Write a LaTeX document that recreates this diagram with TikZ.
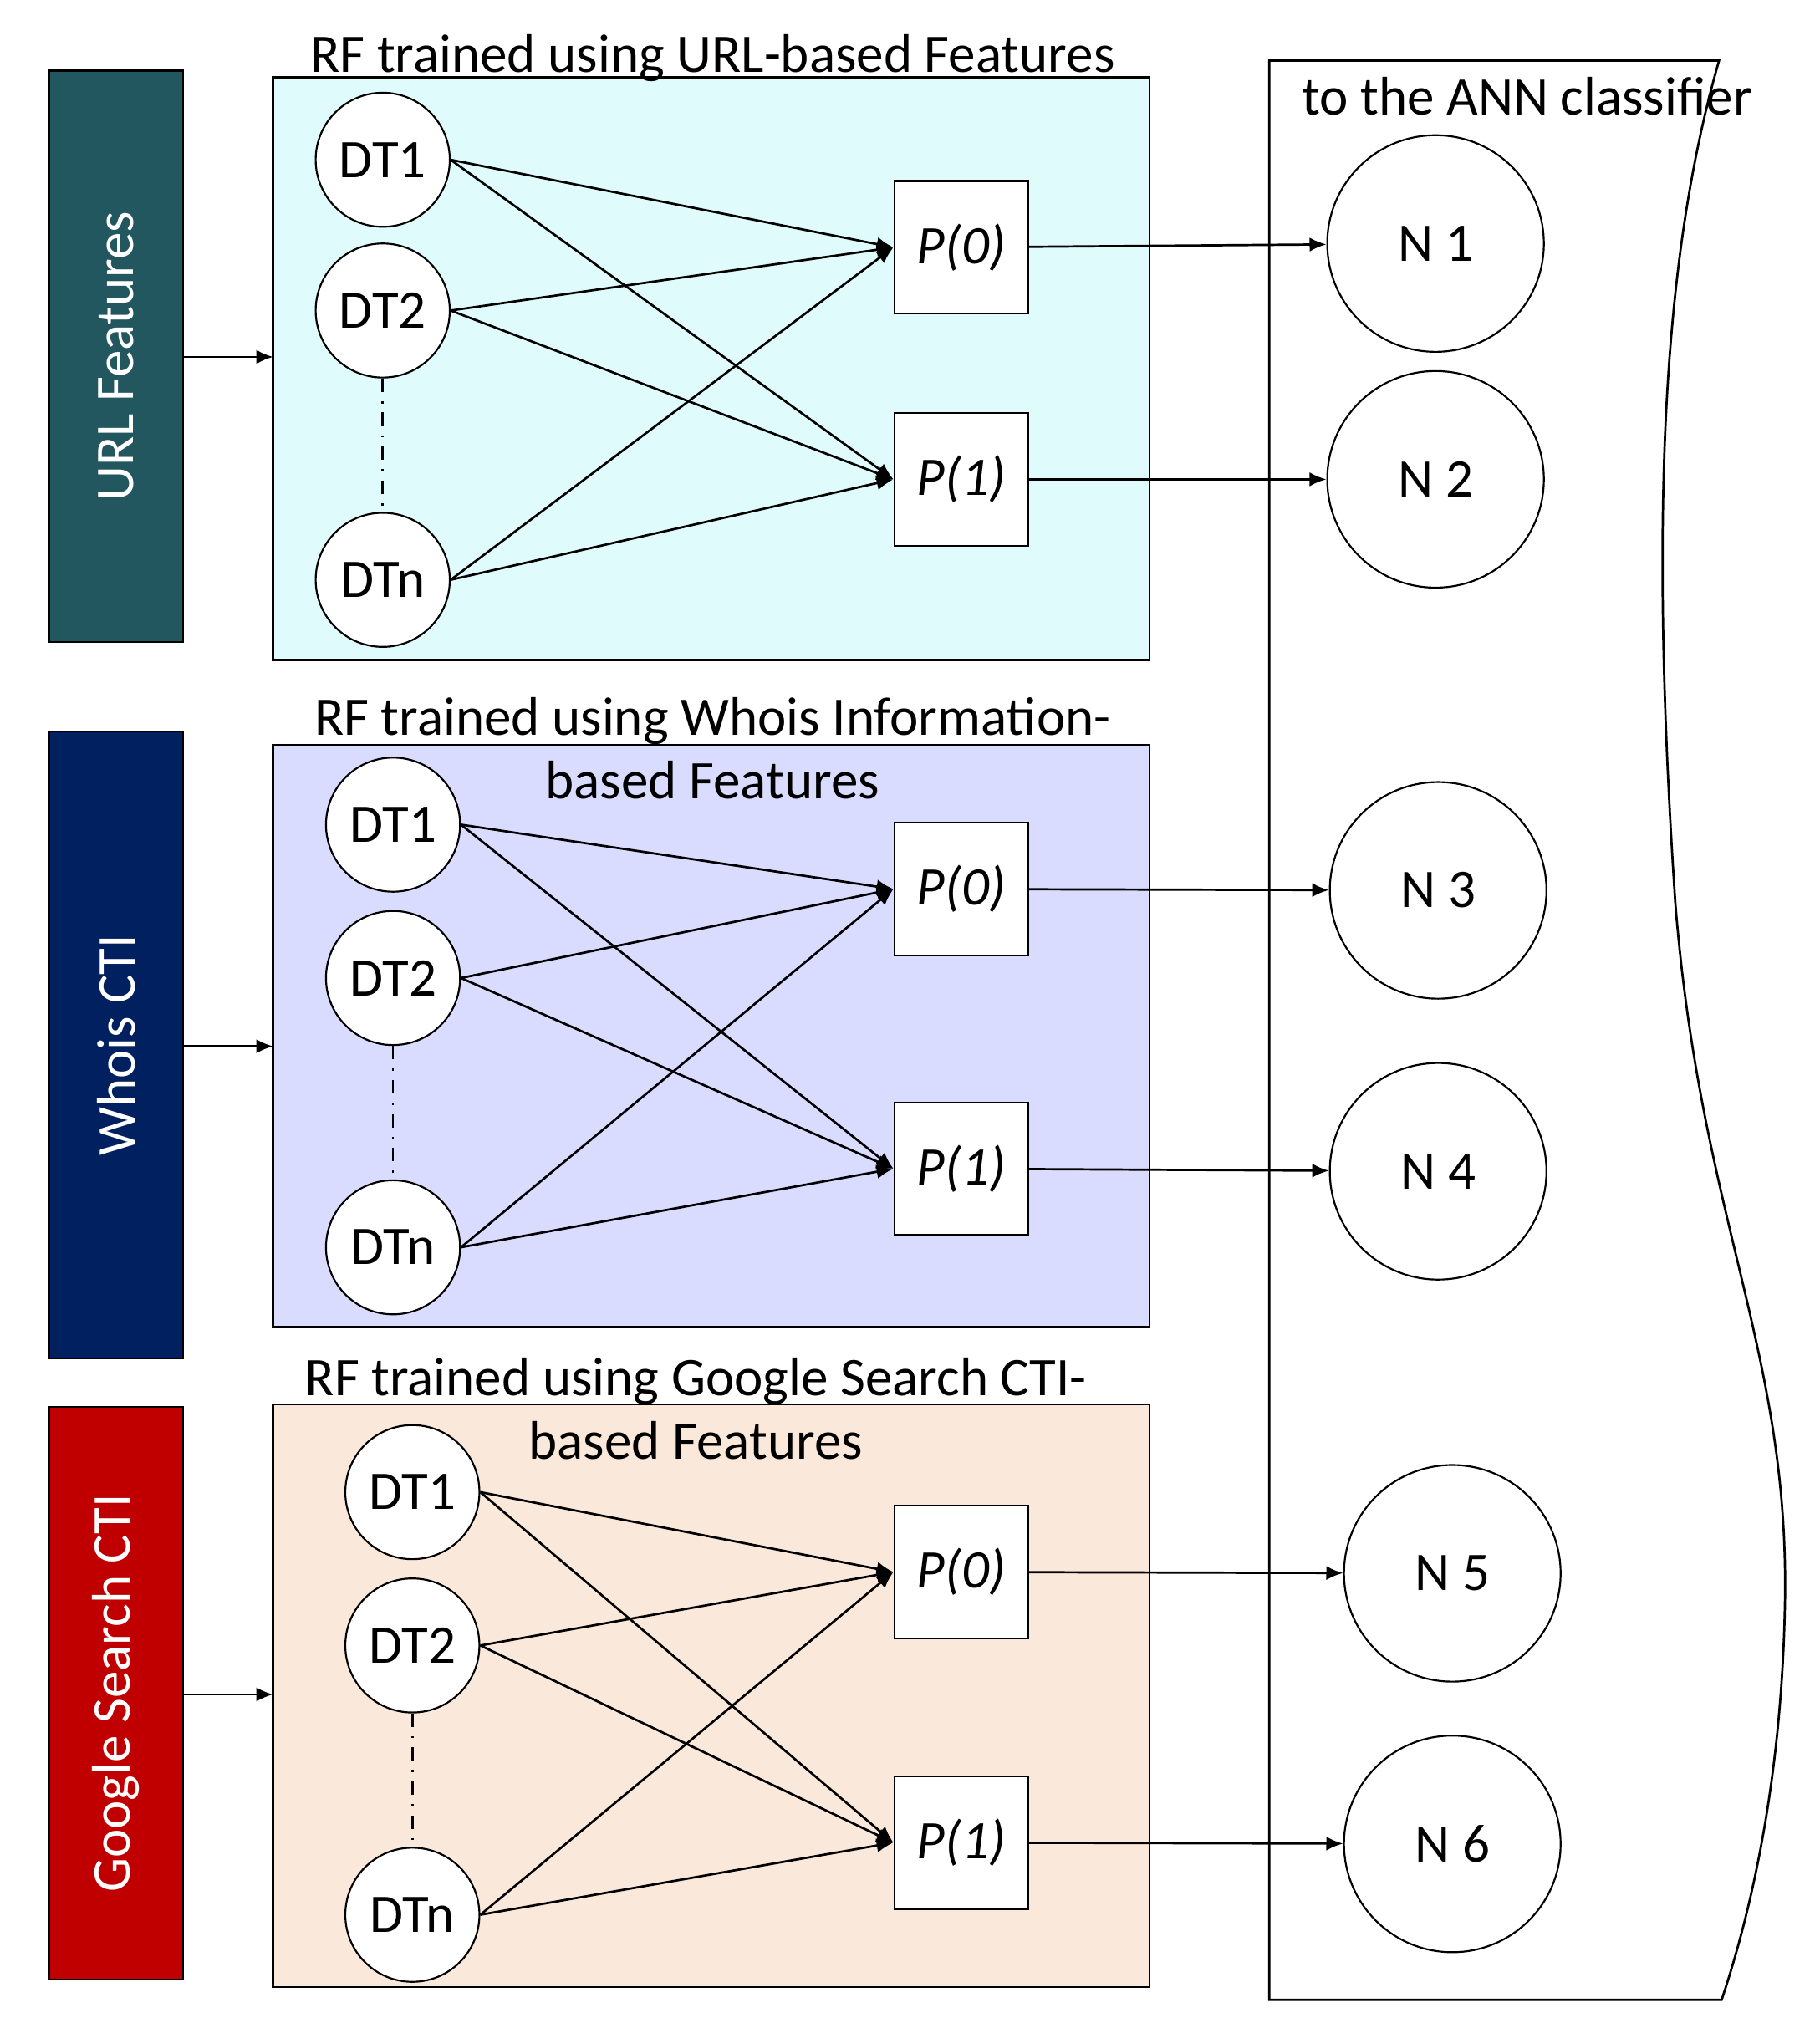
\documentclass[tikz,border=0pt]{standalone}
\usepackage{fontspec}
\setmainfont{Carlito}
\usetikzlibrary{arrows.meta}
\begin{document}
\begin{tikzpicture}[x=0.01cm,y=-0.01cm,
  every node/.style={font=\fontsize{12}{14}\selectfont},
  bar/.style={draw=black,minimum width=1.04cm,minimum height=#1,inner sep=0},
  rf/.style={draw=black,line width=0.5pt},
  dt/.style={circle,draw,fill=white,minimum size=1.04cm,inner sep=0},
  pb/.style={draw,fill=white,minimum width=1.04cm,minimum height=1.03cm,inner sep=0,font=\fontsize{12}{14}\selectfont\itshape},
  nn/.style={circle,draw,fill=white,minimum size=1.68cm,inner sep=0},
  arr/.style={-{Latex[length=1.3mm,width=1.1mm]},line width=0.5pt},
  ln/.style={line width=0.5pt}]
\useasboundingbox (0,0) rectangle (1412,1570);
\definecolor{cteal}{HTML}{22575F}
\definecolor{cnavy}{HTML}{002060}
\definecolor{cred}{HTML}{C00000}
% right panel
\draw[ln] (985,47) -- (1334,47) .. controls (1290,200) and (1280,400) .. (1300,700) .. controls (1320,950) and (1390,1050) .. (1385,1250) .. controls (1382,1380) and (1360,1480) .. (1336,1552) -- (985,1552) -- cycle;
\node at (1185,75) {to the ANN classifier};
% bars
\node[bar=4.43cm,fill=cteal] (b1) at (90,276.5) {};
\node[rotate=90,text=white] at (b1) {URL Features};
\node[bar=4.86cm,fill=cnavy] (b2) at (90,811) {};
\node[rotate=90,text=white] at (b2) {Whois CTI};
\node[bar=4.44cm,fill=cred] (b3) at (90,1314) {};
\node[rotate=90,text=white] at (b3) {Google Search CTI};
% boxes
\draw[rf,fill={rgb,255:red,224;green,251;blue,252}] (212,60) rectangle (892,512);
\draw[rf,fill={rgb,255:red,217;green,220;blue,255}] (212,578) rectangle (892,1030);
\draw[rf,fill={rgb,255:red,250;green,232;blue,218}] (212,1090) rectangle (892,1542);
\coordinate (e1) at (212,277); \coordinate (e2) at (212,812); \coordinate (e3) at (212,1315);
\draw[arr] (142,277) -- (e1);
\draw[arr] (142,812) -- (e2);
\draw[arr] (142,1315) -- (e3);
\node at (553,45) {RF trained using URL-based Features};
\node[align=center] at (553,581) {RF trained using Whois Information-\\[0pt]based Features};
\node[align=center] at (540,1093) {RF trained using Google Search CTI-\\[0pt]based Features};
% groups
\foreach \g/\dx/\ya/\yb/\yn/\pa/\pc/\na/\nb/\nx/\nxb in
 {u/297/124/241/450/192/372/189/372/1114/1114,
  w/305/640/759/968/690/907/691/909/1116/1116,
  g/320/1158/1277/1486/1220/1430/1221/1431/1127/1127}{
  \node[dt] (\g1) at (\dx,\ya) {DT1};
  \node[dt] (\g2) at (\dx,\yb) {DT2};
  \node[dt] (\g n) at (\dx,\yn) {DTn};
  \node[pb] (\g p0) at (746,\pa) {P(0)};
  \node[pb] (\g p1) at (746,\pc) {P(1)};
  \draw[ln,dash dot] (\g2) -- (\g n);
  \foreach \s in {1,2,n}{
    \draw[arr] (\g\s.east) -- (\g p0.west);
    \draw[arr] (\g\s.east) -- (\g p1.west);
  }
  \node[nn] (\g N0) at (\nx,\na) {};
  \node[nn] (\g N1) at (\nxb,\nb) {};
  \draw[arr] (\g p0) -- (\g N0);
  \draw[arr] (\g p1) -- (\g N1);
}
\node at (uN0) {N 1}; \node at (uN1) {N 2};
\node at (wN0) {N 3}; \node at (wN1) {N 4};
\node at (gN0) {N 5}; \node at (gN1) {N 6};
\end{tikzpicture}
\end{document}
